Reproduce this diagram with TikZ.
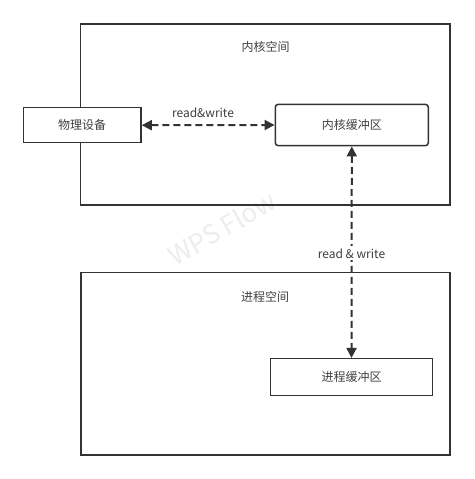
\documentclass[tikz,border=0pt]{standalone}
\usepackage{fontspec}
\setmainfont{Noto Sans CJK SC}
\usetikzlibrary{arrows.meta}
\definecolor{ln}{HTML}{333333}
\definecolor{tx}{HTML}{404040}
\tikzset{
  region/.style={draw=ln, line width=1.5pt, fill=none},
  boxnode/.style={draw=ln, line width=1.5pt, fill=white, inner sep=0pt, text=tx, font=\fontsize{12}{14}\selectfont},
  lbl/.style={text=tx, inner sep=1pt, font=\fontsize{12}{14}\selectfont},
  flow/.style={draw=ln, line width=2pt, dash pattern=on 7pt off 4pt, {Triangle[length=10pt,width=10pt]}-{Triangle[length=10pt,width=10pt]}},
}
\begin{document}
\begin{tikzpicture}[x=1pt,y=-1pt]
\useasboundingbox (0,0) rectangle (474,479);
\fill[white] (0,0) rectangle (474,479);
% watermark
\node[text=black!7, rotate=30, font=\fontsize{26}{28}\selectfont] (wm) at (222,228) {WPS Flow};
% regions
\draw[region] (80.7,24) rectangle (450,205);
\draw[region] (81,272.7) rectangle (450,455);
\node[lbl] (ks) at (265.7,47.3) {内核空间};
\node[lbl] (ps) at (265,296.7) {进程空间};
% boxes
\node[boxnode, minimum width=117.7pt, minimum height=35pt] (dev) at (82.2,125.2) {物理设备};
\node[boxnode, rounded corners=3pt, minimum width=153pt, minimum height=41.4pt] (kbuf) at (351.8,125) {内核缓冲区};
\node[boxnode, minimum width=161.6pt, minimum height=37pt] (pbuf) at (351.5,377.2) {进程缓冲区};
% connectors
\draw[flow] (dev.east) -- (kbuf.west);
\node[lbl] (rw1) at (203,112.7) {read\&write};
\draw[flow] (kbuf.south) -- (pbuf.north);
\node[lbl, fill=white, inner sep=2pt] (rw2) at (351.5,253.3) {read \& write};
\end{tikzpicture}
\end{document}
